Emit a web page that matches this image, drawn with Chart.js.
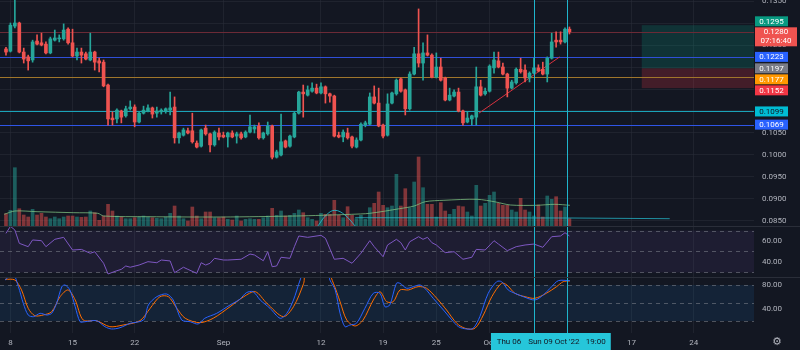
<!DOCTYPE html>
<html>
<head>
<meta charset="utf-8">
<script src="https://cdn.jsdelivr.net/npm/chart.js@4.4.0/dist/chart.umd.min.js"></script>
<style>
  html, body { margin: 0; padding: 0; background: #131722; }
  #wrap { position: relative; width: 800px; height: 350px; overflow: hidden; background: #131722; }
  canvas { position: absolute; left: 0; }
</style>
</head>
<body>
<div id="wrap">
  <canvas id="cPrice" width="800" height="226" style="top:0"></canvas>
  <canvas id="cRsi" width="800" height="51" style="top:226px"></canvas>
  <canvas id="cStoch" width="800" height="73" style="top:277px"></canvas>
</div>
<script>
// 12h candles, index 0 = 07 Aug 12:00, index 1 = 08 Aug 00:00
const open = [
  0.1241,0.1236,0.1293,0.1300,0.1234,0.1223,0.1216,0.1259,0.1255,0.1252,
  0.1232,0.1261,0.1264,0.1264,0.1286,0.1255,0.1225,0.1234,0.1230,0.1216,
  0.1234,0.1214,0.1211,0.1159,0.1084,0.1082,0.1100,0.1089,0.1105,0.1109,
  0.1075,0.1095,0.1100,0.1107,0.1095,0.1098,0.1100,0.1102,0.1109,0.1039,
  0.1045,0.1055,0.1055,0.1027,0.1020,0.1061,0.1048,0.1023,0.1050,0.1045,
  0.1041,0.1050,0.1043,0.1048,0.1041,0.1052,0.1059,0.1066,0.1039,0.1048,
  0.1066,0.0995,0.1000,0.1032,0.1020,0.1041,0.1095,0.1143,0.1136,0.1145,
  0.1152,0.1141,0.1155,0.1139,0.1134,0.1045,0.1041,0.1050,0.1041,0.1018,
  0.1034,0.1068,0.1070,0.1132,0.1118,0.1068,0.1045,0.1118,0.1139,0.1173,
  0.1148,0.1105,0.1184,0.1230,0.1209,0.1232,0.1227,0.1177,0.1200,0.1175,
  0.1125,0.1134,0.1143,0.1100,0.1075,0.1082,0.1086,0.1155,0.1139,0.1145,
  0.1198,0.1214,0.1200,0.1184,0.1152,0.1164,0.1195,0.1193,0.1175,0.1186,
  0.1198,0.1195,0.1184,0.1220,0.1261,0.1261,0.1257,0.1286
];
const high = [
  0.1245,0.1300,0.1352,0.1302,0.1243,0.1227,0.1261,0.1273,0.1277,0.1257,
  0.1268,0.1284,0.1273,0.1298,0.1289,0.1286,0.1243,0.1243,0.1234,0.1277,
  0.1236,0.1220,0.1216,0.1161,0.1098,0.1105,0.1102,0.1111,0.1123,0.1114,
  0.1098,0.1111,0.1114,0.1109,0.1109,0.1105,0.1107,0.1143,0.1132,0.1052,
  0.1061,0.1061,0.1095,0.1032,0.1059,0.1068,0.1050,0.1055,0.1061,0.1052,
  0.1052,0.1055,0.1052,0.1052,0.1055,0.1091,0.1068,0.1073,0.1052,0.1075,
  0.1068,0.1011,0.1093,0.1034,0.1045,0.1098,0.1145,0.1159,0.1157,0.1164,
  0.1161,0.1164,0.1157,0.1141,0.1136,0.1052,0.1057,0.1061,0.1043,0.1039,
  0.1073,0.1077,0.1141,0.1157,0.1152,0.1070,0.1139,0.1143,0.1173,0.1175,
  0.1150,0.1189,0.1245,0.1332,0.1255,0.1273,0.1230,0.1232,0.1220,0.1177,
  0.1152,0.1148,0.1152,0.1102,0.1098,0.1091,0.1200,0.1170,0.1152,0.1205,
  0.1234,0.1234,0.1209,0.1186,0.1170,0.1198,0.1220,0.1205,0.1189,0.1220,
  0.1205,0.1211,0.1223,0.1277,0.1280,0.1280,0.1289,0.1291
];
const low = [
  0.1227,0.1234,0.1289,0.1232,0.1209,0.1193,0.1211,0.1250,0.1248,0.1230,
  0.1230,0.1259,0.1257,0.1261,0.1252,0.1223,0.1216,0.1209,0.1216,0.1214,
  0.1193,0.1189,0.1155,0.1068,0.1068,0.1073,0.1073,0.1086,0.1102,0.1064,
  0.1073,0.1093,0.1098,0.1084,0.1086,0.1093,0.1095,0.1091,0.1027,0.1027,
  0.1043,0.1048,0.1027,0.1016,0.1018,0.1045,0.1007,0.1020,0.1034,0.1039,
  0.1018,0.1039,0.1027,0.1036,0.1039,0.1050,0.1050,0.1036,0.1036,0.1045,
  0.0991,0.0993,0.0998,0.1016,0.1018,0.1039,0.1093,0.1086,0.1134,0.1143,
  0.1139,0.1139,0.1118,0.1120,0.1041,0.1039,0.1030,0.1036,0.1016,0.1016,
  0.1032,0.1064,0.1068,0.1116,0.1064,0.1039,0.1043,0.1116,0.1136,0.1143,
  0.1091,0.1102,0.1182,0.1200,0.1170,0.1225,0.1175,0.1175,0.1168,0.1123,
  0.1123,0.1132,0.1098,0.1068,0.1073,0.1068,0.1068,0.1134,0.1136,0.1143,
  0.1186,0.1198,0.1182,0.1132,0.1150,0.1161,0.1186,0.1166,0.1166,0.1184,
  0.1189,0.1182,0.1166,0.1218,0.1245,0.1252,0.1255,0.1275
];
const close = [
  0.1234,0.1295,0.1300,0.1234,0.1218,0.1214,0.1257,0.1252,0.1250,0.1232,
  0.1264,0.1266,0.1266,0.1284,0.1255,0.1225,0.1234,0.1227,0.1218,0.1234,
  0.1211,0.1209,0.1157,0.1082,0.1080,0.1102,0.1086,0.1105,0.1109,0.1075,
  0.1095,0.1102,0.1107,0.1093,0.1100,0.1102,0.1105,0.1107,0.1039,0.1050,
  0.1057,0.1050,0.1030,0.1018,0.1057,0.1048,0.1023,0.1052,0.1041,0.1041,
  0.1050,0.1041,0.1048,0.1039,0.1052,0.1064,0.1064,0.1039,0.1050,0.1066,
  0.0995,0.1007,0.1030,0.1018,0.1043,0.1095,0.1143,0.1139,0.1148,0.1152,
  0.1141,0.1155,0.1139,0.1134,0.1043,0.1041,0.1052,0.1039,0.1020,0.1034,
  0.1070,0.1073,0.1132,0.1118,0.1066,0.1043,0.1116,0.1141,0.1170,0.1145,
  0.1105,0.1184,0.1230,0.1209,0.1232,0.1227,0.1177,0.1200,0.1170,0.1125,
  0.1136,0.1143,0.1100,0.1073,0.1084,0.1089,0.1155,0.1136,0.1145,0.1202,
  0.1216,0.1200,0.1184,0.1152,0.1166,0.1195,0.1189,0.1175,0.1186,0.1198,
  0.1191,0.1184,0.1220,0.1257,0.1257,0.1257,0.1286,0.1280
];
const volume = [
  12.3,15.7,58.3,17.3,11,9,16.7,11,12.7,9,
  7.3,9,7.3,9,10,10,9,8.7,9,15,
  13.3,5.7,10,21.7,15,10,9,7.3,7.3,8.3,
  9,10,9,8.3,7.7,7.3,9,12.7,20,10,
  7.3,5,19,10,7.3,14,14,8.3,8.3,9,
  6.7,6,10,5,6.7,7.3,6.7,6.7,8.3,10,
  17.7,10.7,15,10,10.7,12.7,16,13.3,8.3,6.7,
  5,12.7,11.7,11.7,25.7,10.7,8.3,19.3,10.7,7.3,
  10.7,6.7,18.3,22.7,34,20.7,18.3,20,51.7,20,
  37.3,18.3,44,69,38.3,21.7,21.7,9,23.3,15,
  11.7,16.7,20,19.3,14,10,40.7,20,22.7,30.7,
  34,22.7,20.7,20.7,16,14,27.7,16,14,10,
  21,9,30,26.7,29.3,15,19,7.3
];

// volume moving average, read at a few points
const volMaIdx = [-0.4, 2, 7, 15.3, 20.7, 22, 32, 48.7, 65.3, 71.2, 77.9, 82, 88.7, 92, 94.5, 98.7, 106.2, 110.4, 113.7, 119.5, 123.7, 127.1];
const volMaVal = [11.7, 15, 14.3, 13.3, 12.7, 10, 9.3, 9, 10, 10.7, 11.7, 12.7, 17.3, 20, 24.3, 25.7, 26.7, 24, 21, 20.7, 21.7, 20.7];
const humpIdx = [70.3, 72.2, 74.1, 76.4, 78.7];
const humpVal = [0, 11, 15.7, 11, 0];
const trailIdx = [78.7, 127.1, 149.6];
const trailVal = [8.3, 8, 7.3];

// RSI
const rsiIdx = [0, 1, 2, 3, 5, 6, 8, 9, 11, 13, 15, 17, 19, 20, 22, 23, 25, 26, 27, 28, 30, 32, 34, 35, 37, 38, 40, 41, 43, 44, 45, 46, 47, 49, 50, 53, 55, 56, 58, 59, 60, 61, 62, 64, 65, 66, 68, 71, 72, 74, 76, 78, 80, 82, 83, 85, 86, 88, 89, 90, 91, 93, 94, 95, 96, 97, 99, 101, 103, 105, 106, 108, 110, 111, 113, 115, 117, 119, 121, 123, 125, 126, 127];
const rsiVal = [67.3, 74, 70.5, 57.8, 54.6, 61, 60.3, 54.6, 61.6, 63.5, 51.4, 52, 48.3, 49.8, 38.8, 28.6, 31.7, 33, 36.2, 35, 37.1, 40.3, 39.3, 41.9, 41, 29.8, 35, 33, 29.2, 39.3, 37.1, 38.8, 43.5, 41.9, 41.9, 42.6, 47.6, 46.7, 41.2, 49.8, 35.5, 36.2, 44.5, 43.5, 54.6, 64.8, 63.5, 65.4, 62.6, 42.6, 43.5, 38.8, 48.3, 60.3, 54.6, 45, 56.2, 61.6, 58.4, 51.4, 59.3, 64.1, 61.6, 63.5, 58.4, 56.2, 48.9, 49.8, 42.6, 44.5, 52, 51.4, 60.3, 57.1, 50.8, 54.6, 56.2, 57.1, 54, 64.1, 64.8, 67.9, 64.8];

// Stoch RSI
const kIdx = [-0.2, 1.6, 2.8, 3.9, 5.0, 6.2, 7.7, 9.2, 10.3, 11.4, 12.6, 13.3, 14.4, 15.6, 16.7, 17.8, 20.4, 22.3, 23.8, 25.7, 28, 31, 32.1, 34, 36.2, 37.7, 39.6, 41.5, 43.3, 44.8, 47.5, 50.5, 52.7, 54.2, 55.7, 57.3, 59.5, 61.8, 63.3, 64.8, 66.3, 67.1, 72.5, 73.0, 74.2, 75.3, 76.4, 77.5, 79.0, 80.9, 82.8, 84.3, 85.4, 86.5, 88.0, 88.8, 90.3, 91.8, 93.3, 94.4, 96.3, 98.6, 100.5, 102.0, 103.8, 105.3, 106.8, 108.7, 110.6, 111.7, 113.2, 114.7, 116.6, 119.2, 121.1, 123.0, 124.5, 127.1];
const kVal = [88.3, 98, 77.2, 49.5, 30, 27.2, 32.8, 30, 32.8, 49.5, 77.2, 80, 71.7, 43.8, 18.8, 18.8, 20.5, 10.5, 6.7, 8.8, 16.2, 21.7, 46.7, 60.5, 65, 55, 21.7, 18.8, 15, 24.5, 32.8, 46.7, 56.2, 67.2, 68.8, 55, 41.2, 24.5, 32.8, 55, 88.3, 100, 100, 88.3, 71.7, 32.8, 10.5, 13.3, 16.2, 41.2, 66.2, 66.2, 43.8, 46.7, 82.8, 82.8, 74.5, 77.2, 80, 74.5, 57.8, 38.3, 21.7, 10.5, 6.7, 7.8, 27.2, 66.2, 85.5, 85.5, 71.7, 66.2, 60.5, 55, 63.3, 77.2, 87.2, 87.2];
const dIdx = [-0.2, 2.0, 3.5, 5.0, 6.5, 8.4, 10.3, 12.2, 14.0, 15.6, 17.4, 20.4, 23.4, 26.4, 30.2, 32.5, 34.7, 36.6, 38.5, 40.4, 43.7, 46.7, 50.5, 53.6, 56.2, 58.8, 62.5, 64.8, 67.1, 67.6, 72.5, 73.8, 75.3, 76.8, 78.7, 80.5, 82.8, 84.3, 85.8, 87.3, 88.8, 90.7, 92.9, 94.8, 97.1, 99.3, 101.6, 103.5, 105.7, 107.6, 109.5, 111.7, 112.9, 114.7, 117.0, 119.2, 121.8, 124.1, 125.6, 127.1];
const dVal = [89.5, 88.3, 71.7, 41.2, 28.8, 30, 35.5, 60.5, 71.7, 55, 21.7, 20.5, 10.5, 13.3, 20.5, 41.2, 60.5, 60.5, 41.2, 24.5, 17.2, 24.5, 43.8, 60.5, 68.8, 49.5, 27.2, 43.8, 82.8, 100, 100, 82.8, 52.2, 21.7, 11.7, 21.7, 55, 68.8, 52.2, 52.2, 71.7, 71.7, 77.2, 74.5, 57.8, 38.3, 16.2, 7.8, 7.8, 30, 60.5, 82.8, 80, 66.2, 60.5, 57.8, 66.2, 77.2, 85.5, 86.7];

// time axis
const tickIdx = [1, 15, 29, 49, 71, 85, 97, 109, 141, 155];
const tickLabels = ['8', '15', '22', 'Sep', '12', '19', '25', 'Oct', '17', '24'];
const priceTicks = [0.085, 0.090, 0.095, 0.100, 0.105, 0.110, 0.115, 0.120, 0.125, 0.130, 0.135];

// drawings
const levelValues = [0.1280, 0.1223, 0.1177, 0.1099, 0.1069];
const trendIdx = [106.6, 124.8];
const trendVal = [0.1095, 0.1223];
const posStart = 143.3, posTarget = 0.1295, posEntry = 0.1197, posStop = 0.1152;
const crossIdx = [119, 126.4];
const crossLabels = ['Thu 06', "Sun 09 Oct '22", '19:00'];
const axisValues = [0.1295, 0.1280, 0.1223, 0.1197, 0.1177, 0.1152, 0.1099, 0.1069];
const countdown = '07:16:40';

// styles
const FONT = 'Roboto, "Noto Sans", sans-serif';
const TXT = '#b2b5be';
const GRID = 'rgba(42,46,57,0.55)';
const UP = '#26a69a', DOWN = '#ef5350';
const levelColors = ['#6b2a36', '#2f4fd8', '#a0762a', '#1aa3b8', '#2f55e6'];
const axisColors = ['#089981', '#ef5350', '#2962ff', '#787b86', '#ff9800', '#f23645', '#00bcd4', '#2962ff'];
const X_MIN = -1.35, X_MAX = 168.6;

const isUp = close.map((c, i) => c >= open[i]);
const xy = (xs, ys) => xs.map((v, i) => ({ x: v, y: ys[i] }));

function fixRight(s) { s.width = 46; s.paddingTop = 0; s.paddingBottom = 0; }

function xOpts(showLabels) {
  return {
    type: 'linear', min: X_MIN, max: X_MAX, offset: false,
    grid: { color: GRID, drawTicks: false, offset: false },
    border: { display: false },
    ticks: {
      display: showLabels, color: TXT, font: { family: FONT, size: 8 }, padding: 5,
      maxRotation: 0, autoSkip: false, callback: (v, i) => tickLabels[i]
    },
    afterBuildTicks: s => { s.ticks = tickIdx.map(v => ({ value: v })); },
    afterFit: s => { s.height = showLabels ? 17 : 0; s.paddingLeft = 0; s.paddingRight = 0; }
  };
}

function drawCross(chart) {
  const { ctx, chartArea: a, scales: { x } } = chart;
  ctx.save();
  ctx.strokeStyle = '#1fb5cc';
  ctx.lineWidth = 1;
  crossIdx.forEach(v => {
    const px = Math.round(x.getPixelForValue(v)) + 0.5;
    ctx.beginPath(); ctx.moveTo(px, a.top); ctx.lineTo(px, a.bottom); ctx.stroke();
  });
  ctx.restore();
}

function drawSeparator(chart) {
  const ctx = chart.ctx;
  ctx.save();
  ctx.strokeStyle = '#2a2e39';
  ctx.lineWidth = 1;
  ctx.beginPath(); ctx.moveTo(0, 0.5); ctx.lineTo(chart.width, 0.5); ctx.stroke();
  ctx.restore();
}

function bandPlugin(id, hi, mid, lo, fill) {
  return {
    id,
    beforeDatasetsDraw(chart) {
      const { ctx, chartArea: a, scales: { y } } = chart;
      ctx.save();
      ctx.fillStyle = fill;
      ctx.fillRect(a.left, y.getPixelForValue(hi), a.right - a.left, y.getPixelForValue(lo) - y.getPixelForValue(hi));
      ctx.strokeStyle = 'rgba(120,123,134,0.6)';
      ctx.setLineDash([4, 4]);
      [hi, mid, lo].forEach(v => {
        const py = Math.round(y.getPixelForValue(v)) + 0.5;
        ctx.beginPath(); ctx.moveTo(a.left, py); ctx.lineTo(a.right, py); ctx.stroke();
      });
      ctx.restore();
    },
    afterDatasetsDraw(chart) { drawCross(chart); },
    afterDraw(chart) { drawSeparator(chart); }
  };
}

const pricePlugin = {
  id: 'pricePane',
  beforeDatasetsDraw(chart) {
    const { ctx, chartArea: a, scales: { x, y } } = chart;
    ctx.save();
    const px0 = x.getPixelForValue(posStart);
    const yT = y.getPixelForValue(posTarget), yE = y.getPixelForValue(posEntry), yS = y.getPixelForValue(posStop);
    ctx.fillStyle = 'rgba(8,153,129,0.22)';
    ctx.fillRect(px0, yT, a.right - px0, yE - yT);
    ctx.fillStyle = 'rgba(242,54,69,0.22)';
    ctx.fillRect(px0, yE, a.right - px0, yS - yE);
    ctx.lineWidth = 1;
    levelValues.forEach((v, k) => {
      const py = Math.round(y.getPixelForValue(v)) + 0.5;
      ctx.strokeStyle = levelColors[k];
      ctx.beginPath(); ctx.moveTo(a.left, py); ctx.lineTo(a.right, py); ctx.stroke();
    });
    ctx.restore();
  },
  afterDatasetsDraw(chart) { drawCross(chart); },
  afterDraw(chart) {
    const { ctx, chartArea: a, scales: { y } } = chart;
    const boxes = axisValues.map((v, k) => ({ v, color: axisColors[k], c: y.getPixelForValue(v), main: v === close[close.length - 1] }));
    const main = boxes.find(b => b.main);
    main.top = main.c - 4.5; main.bot = main.c + 14.5;
    let lim = main.top - 1;
    boxes.filter(b => !b.main && b.c < main.c).sort((p, q) => q.c - p.c).forEach(b => {
      b.bot = Math.min(b.c + 5, lim); b.top = b.bot - 10; lim = b.top - 1;
    });
    lim = main.bot + 1;
    boxes.filter(b => !b.main && b.c > main.c).sort((p, q) => p.c - q.c).forEach(b => {
      b.top = Math.max(b.c - 5, lim); b.bot = b.top + 10; lim = b.bot + 1;
    });
    ctx.save();
    ctx.font = `8px ${FONT}`;
    ctx.textAlign = 'center';
    ctx.textBaseline = 'middle';
    boxes.forEach(b => {
      const x0 = a.right + 1, w = b.main ? 42 : 33;
      ctx.fillStyle = b.color;
      ctx.fillRect(x0, b.top, w, b.bot - b.top);
      ctx.fillStyle = b.color === '#00bcd4' ? '#131722' : '#ffffff';
      if (b.main) {
        ctx.fillText(b.v.toFixed(4), x0 + w / 2, b.top + 5);
        ctx.fillText(countdown, x0 + w / 2, b.top + 14);
      } else {
        ctx.fillText(b.v.toFixed(4), x0 + w / 2, (b.top + b.bot) / 2 + 0.5);
      }
    });
    ctx.restore();
  }
};

const stochAxisPlugin = {
  id: 'timeLabels',
  afterDraw(chart) {
    const { ctx, chartArea: a, scales: { x } } = chart;
    const c0 = x.getPixelForValue(crossIdx[0]), c1 = x.getPixelForValue(crossIdx[1]);
    const top = a.bottom;
    ctx.save();
    ctx.fillStyle = '#26c6da';
    ctx.fillRect(c0 - 43, top, (c1 + 44) - (c0 - 43), 17);
    ctx.fillStyle = '#131722';
    ctx.font = `8px ${FONT}`;
    ctx.textAlign = 'center';
    ctx.textBaseline = 'middle';
    ctx.fillText(crossLabels[0], c0 - 25, top + 9);
    ctx.fillText(crossLabels[1], c1 - 13, top + 9);
    ctx.fillText(crossLabels[2], c1 + 29, top + 9);
    ctx.fillStyle = TXT;
    ctx.font = '11px "DejaVu Sans"';
    ctx.fillText('\u2699', 777, top + 9);
    ctx.restore();
  }
};

const baseOpts = {
  responsive: false,
  animation: false,
  events: [],
  layout: { padding: 0 },
  plugins: { legend: { display: false }, tooltip: { enabled: false } }
};

new Chart(document.getElementById('cPrice'), {
  type: 'bar',
  data: {
    datasets: [
      {
        label: 'Bodies', order: 1, grouped: false, barThickness: 3, borderWidth: 0,
        data: open.map((o, i) => ({ x: i, y: [Math.min(o, close[i]), Math.max(o, close[i])] })),
        backgroundColor: isUp.map(u => u ? UP : DOWN)
      },
      {
        label: 'Wicks', order: 2, grouped: false, barThickness: 1, borderWidth: 0,
        data: low.map((l, i) => ({ x: i, y: [l, high[i]] })),
        backgroundColor: isUp.map(u => u ? UP : DOWN)
      },
      {
        type: 'line', label: 'Trend', order: 3, data: xy(trendIdx, trendVal),
        borderColor: '#d8323f', borderWidth: 1, pointRadius: 0
      },
      {
        type: 'line', label: 'Vol MA', order: 4, yAxisID: 'yv', data: xy(volMaIdx, volMaVal),
        borderColor: 'rgba(129,199,132,0.75)', borderWidth: 1, pointRadius: 0, tension: 0.3
      },
      {
        type: 'line', label: 'Vol hump', order: 4, yAxisID: 'yv', data: xy(humpIdx, humpVal),
        borderColor: 'rgba(38,198,218,0.8)', borderWidth: 1, pointRadius: 0, tension: 0.4
      },
      {
        type: 'line', label: 'Vol trail', order: 4, yAxisID: 'yv', data: xy(trailIdx, trailVal),
        borderColor: 'rgba(38,198,218,0.7)', borderWidth: 1, pointRadius: 0
      },
      {
        label: 'Volume', order: 5, grouped: false, barThickness: 3, borderWidth: 0, yAxisID: 'yv',
        data: volume.map((v, i) => ({ x: i, y: v })),
        backgroundColor: isUp.map(u => u ? 'rgba(38,166,154,0.5)' : 'rgba(239,83,80,0.5)')
      }
    ]
  },
  options: {
    ...baseOpts,
    scales: {
      x: xOpts(false),
      y: {
        position: 'right', min: 0.08386, max: 0.13523,
        grid: { color: GRID, drawTicks: false }, border: { display: false },
        ticks: { color: TXT, font: { family: FONT, size: 8 }, padding: 8, callback: v => Number(v).toFixed(4) },
        afterBuildTicks: s => { s.ticks = priceTicks.map(v => ({ value: v })); },
        afterFit: fixRight
      },
      yv: { position: 'right', display: false, min: 0, max: 226 }
    }
  },
  plugins: [pricePlugin]
});

new Chart(document.getElementById('cRsi'), {
  type: 'line',
  data: {
    datasets: [{
      label: 'RSI', data: xy(rsiIdx, rsiVal),
      borderColor: '#7e57c2', borderWidth: 1, pointRadius: 0
    }]
  },
  options: {
    ...baseOpts,
    scales: {
      x: xOpts(false),
      y: {
        position: 'right', min: 25.7, max: 74.3,
        grid: { display: false, drawTicks: false }, border: { display: false },
        ticks: { color: TXT, font: { family: FONT, size: 8 }, padding: 8, callback: v => Number(v).toFixed(2) },
        afterBuildTicks: s => { s.ticks = [60, 40].map(v => ({ value: v })); },
        afterFit: fixRight
      }
    }
  },
  plugins: [bandPlugin('rsiBand', 70, 50, 30, 'rgba(126,87,194,0.1)')]
});

new Chart(document.getElementById('cStoch'), {
  type: 'line',
  data: {
    datasets: [
      { label: 'K', data: xy(kIdx, kVal), borderColor: '#2962ff', borderWidth: 1, pointRadius: 0, tension: 0.3 },
      { label: 'D', data: xy(dIdx, dVal), borderColor: '#ff6d00', borderWidth: 1, pointRadius: 0, tension: 0.3 }
    ]
  },
  options: {
    ...baseOpts,
    scales: {
      x: xOpts(true),
      y: {
        position: 'right', min: 0, max: 93.3,
        grid: { display: false, drawTicks: false }, border: { display: false },
        ticks: { color: TXT, font: { family: FONT, size: 8 }, padding: 8, callback: v => Number(v).toFixed(2) },
        afterBuildTicks: s => { s.ticks = [80, 40].map(v => ({ value: v })); },
        afterFit: fixRight
      }
    }
  },
  plugins: [bandPlugin('stochBand', 80, 50, 20, 'rgba(33,150,243,0.1)'), stochAxisPlugin]
});
</script>
</body>
</html>
